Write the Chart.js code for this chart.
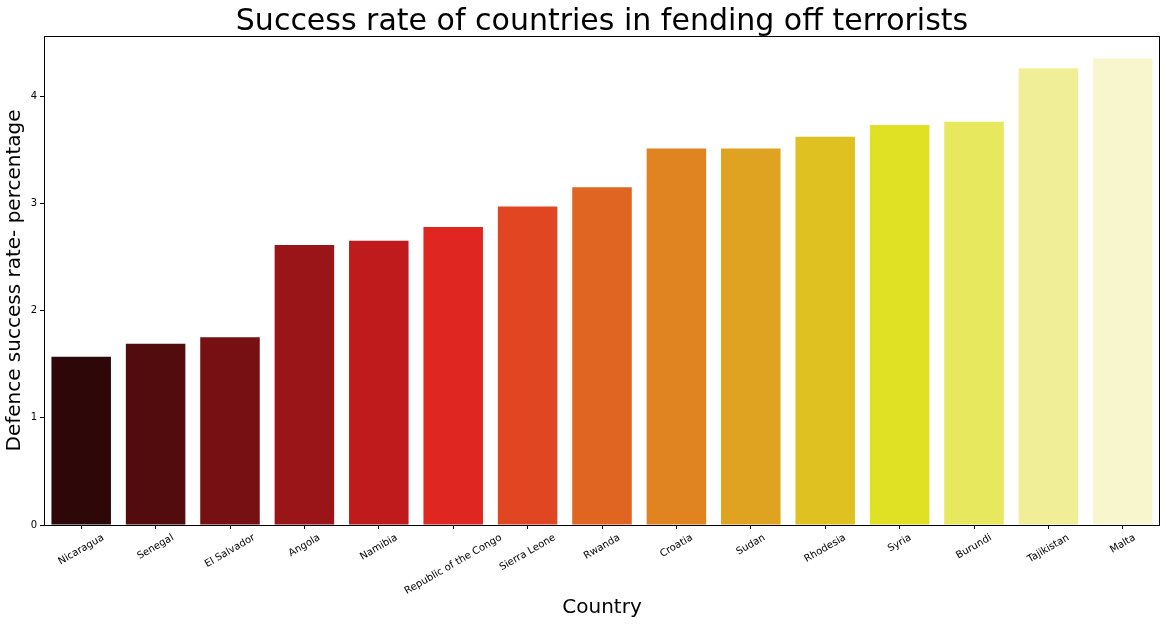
<!DOCTYPE html>
<html>
<head>
<meta charset="utf-8">
<script src="https://cdn.jsdelivr.net/npm/chart.js@4/dist/chart.umd.min.js"></script>
<style>
  html, body { margin: 0; padding: 0; background: #fff; }
  #wrap { width: 1166px; height: 626px; }
</style>
</head>
<body>
<div id="wrap"><canvas id="chart"></canvas></div>
<script>
const countries = ['Nicaragua', 'Senegal', 'El Salvador', 'Angola', 'Namibia',
    'Republic of the Congo', 'Sierra Leone', 'Rwanda', 'Croatia', 'Sudan',
    'Rhodesia', 'Syria', 'Burundi', 'Tajikistan', 'Malta'];
const successRate = [1.57, 1.69, 1.75, 2.61, 2.65, 2.78, 2.97, 3.15, 3.51, 3.51,
    3.62, 3.73, 3.76, 4.26, 4.35];
const yTicks = [0, 1, 2, 3, 4];
const palette = ['#2e0808', '#520c0e', '#761012', '#9a1518', '#bf1b1c', '#df2621',
    '#df4621', '#e16522', '#e08422', '#e0a321', '#dfc221', '#e0e024',
    '#e7e85d', '#f0ef97', '#f8f6cd'];

const FONT = "'DejaVu Sans', sans-serif";

// titles, frame and rotated (centred) category labels
const decorations = {
    id: 'decorations',
    afterDraw(chart) {
        const ctx = chart.ctx;
        const area = chart.chartArea;
        const xScale = chart.scales.x;
        ctx.save();

        ctx.strokeStyle = '#000';
        ctx.lineWidth = 1;
        ctx.strokeRect(area.left + 0.5, area.top + 0.5, area.right - area.left - 1, area.bottom - area.top);

        ctx.fillStyle = '#000';
        ctx.textAlign = 'center';
        ctx.textBaseline = 'alphabetic';
        ctx.font = '30px ' + FONT;
        ctx.fillText('Success rate of countries in fending off terrorists', (area.left + area.right) / 2, 30);

        ctx.font = '20px ' + FONT;
        ctx.textBaseline = 'middle';
        ctx.fillText('Country', (area.left + area.right) / 2, 608);

        ctx.save();
        ctx.translate(15, (area.top + area.bottom) / 2);
        ctx.rotate(-Math.PI / 2);
        ctx.fillText('Defence success rate- percentage', 0, 0);
        ctx.restore();

        ctx.font = '10px ' + FONT;
        const ang = 30 * Math.PI / 180;
        countries.forEach((name, i) => {
            const x = xScale.getPixelForTick(i);
            const w = ctx.measureText(name).width;
            const h = 11.5;
            const boxH = w * Math.sin(ang) + h * Math.cos(ang);
            ctx.save();
            ctx.translate(x, area.bottom + 7 + boxH / 2);
            ctx.rotate(-ang);
            ctx.fillText(name, 0, 0);
            ctx.restore();
        });
        ctx.restore();
    }
};

new Chart(document.getElementById('chart'), {
    type: 'bar',
    data: {
        labels: countries,
        datasets: [{
            data: successRate,
            backgroundColor: palette,
            borderWidth: 0,
            categoryPercentage: 0.8,
            barPercentage: 1.0
        }]
    },
    options: {
        responsive: true,
        maintainAspectRatio: false,
        animation: false,
        layout: { padding: { top: 36, right: 6, left: 0, bottom: 0 } },
        plugins: {
            legend: { display: false },
            tooltip: { enabled: false }
        },
        scales: {
            x: {
                grid: { display: true, drawOnChartArea: false, drawTicks: true, tickLength: 4, color: '#000', offset: false },
                border: { display: false },
                ticks: { display: false },
                afterFit(scale) { scale.height = 101; }
            },
            y: {
                min: 0,
                max: 4.56,
                grid: { display: true, drawOnChartArea: false, drawTicks: true, tickLength: 4, color: '#000' },
                border: { display: false },
                ticks: {
                    includeBounds: false,
                    stepSize: 1,
                    padding: 3,
                    color: '#000',
                    font: { family: FONT, size: 10 }
                },
                afterBuildTicks(scale) {
                    scale.ticks = yTicks.map(v => ({ value: v }));
                },
                afterFit(scale) { scale.width = 44; }
            }
        }
    },
    plugins: [decorations]
});
</script>
</body>
</html>
